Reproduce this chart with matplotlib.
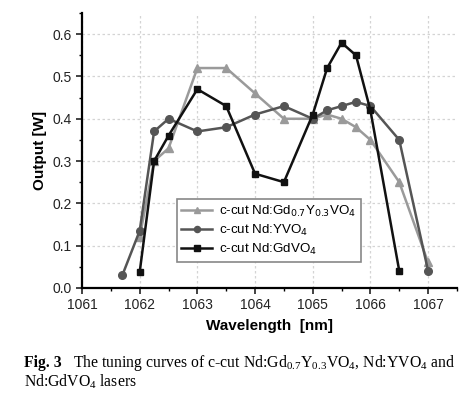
import matplotlib
matplotlib.use("Agg")
import matplotlib.pyplot as plt
from matplotlib.ticker import MultipleLocator

plt.rcParams['font.family'] = ['Liberation Sans', 'DejaVu Sans']

# Nd:Gd0.7Y0.3VO4 (grey triangles)
wl_gdy = [1062.0, 1062.25, 1062.5, 1063.0, 1063.5, 1064.0, 1064.5, 1065.0,
          1065.25, 1065.5, 1065.75, 1066.0, 1066.5, 1067.0]
out_gdy = [0.12, 0.30, 0.33, 0.52, 0.52, 0.46, 0.40, 0.40,
           0.41, 0.40, 0.38, 0.35, 0.25, 0.06]

# Nd:YVO4 (dark grey circles)
wl_yvo = [1061.7, 1062.0, 1062.25, 1062.5, 1063.0, 1063.5, 1064.0, 1064.5,
          1065.0, 1065.25, 1065.5, 1065.75, 1066.0, 1066.5, 1067.0]
out_yvo = [0.03, 0.135, 0.37, 0.40, 0.37, 0.38, 0.41, 0.43,
           0.40, 0.42, 0.43, 0.44, 0.43, 0.35, 0.04]

# Nd:GdVO4 (black squares)
wl_gdv = [1062.0, 1062.25, 1062.5, 1063.0, 1063.5, 1064.0, 1064.5, 1065.0,
          1065.25, 1065.5, 1065.75, 1066.0, 1066.5]
out_gdv = [0.037, 0.30, 0.36, 0.47, 0.43, 0.27, 0.25, 0.41,
           0.52, 0.58, 0.55, 0.42, 0.04]

labels = [r'c-cut Nd:Gd$_{0.7}$Y$_{0.3}$VO$_4$',
          r'c-cut Nd:YVO$_4$',
          r'c-cut Nd:GdVO$_4$']

fig = plt.figure(figsize=(4.74, 3.97), dpi=100)
ax = fig.add_axes([0.173, 0.275, 0.791, 0.692])

ax.plot(wl_gdy, out_gdy, '-^', color='#9a9a9a', lw=1.8, ms=5.5,
        label=labels[0], zorder=3)
ax.plot(wl_yvo, out_yvo, '-o', color='#555555', lw=1.8, ms=5.5,
        label=labels[1], zorder=4)
ax.plot(wl_gdv, out_gdv, '-s', color='#111111', lw=1.8, ms=5,
        label=labels[2], zorder=5)

ax.set_xlim(1061, 1067.5)
ax.set_ylim(0, 0.65)
ax.xaxis.set_major_locator(MultipleLocator(1))
ax.xaxis.set_minor_locator(MultipleLocator(0.5))
ax.yaxis.set_major_locator(MultipleLocator(0.1))
ax.yaxis.set_minor_locator(MultipleLocator(0.05))
ax.yaxis.set_major_formatter(lambda v, _: '%.1f' % v)
ax.grid(True, which='major', ls=(0, (2, 2)), color='#d4d4d4', lw=0.9)
ax.set_axisbelow(True)

for s in ['top', 'right']:
    ax.spines[s].set_visible(False)
for s in ['left', 'bottom']:
    ax.spines[s].set_linewidth(1.6)
ax.tick_params(which='major', length=4, width=1.2, labelsize=10, colors='#222222')
ax.tick_params(which='minor', length=2.5, width=1.0)

ax.set_xlabel('Wavelength  [nm]', fontsize=11, fontweight='bold', labelpad=5)
ax.set_ylabel('Output [W]', fontsize=11, fontweight='bold', labelpad=4)

leg = ax.legend(loc='lower left', bbox_to_anchor=(0.235, 0.07), fontsize=9.6,
                fancybox=False, framealpha=1, edgecolor='#888888',
                handlelength=2.3, borderpad=0.35, labelspacing=0.3,
                markerscale=0.8, handletextpad=0.5)
leg.get_frame().set_linewidth(1.2)

fig.text(0.05, 0.0755, 'Fig. 3', fontfamily='Liberation Serif',
         fontweight='bold', fontsize=11.3, va='baseline')
fig.text(0.155, 0.0755,
         r'The tuning curves of c-cut Nd:Gd$\mathregular{_{0.7}}$Y$\mathregular{_{0.3}}$'
         r'VO$\mathregular{_4}$, Nd:YVO$\mathregular{_4}$ and',
         fontfamily='Liberation Serif', fontsize=11.3, va='baseline')
fig.text(0.05, 0.027, r'Nd:GdVO$\mathregular{_4}$ lasers',
         fontfamily='Liberation Serif', fontsize=11.3, va='baseline')

fig.savefig('out.png', dpi=100)
